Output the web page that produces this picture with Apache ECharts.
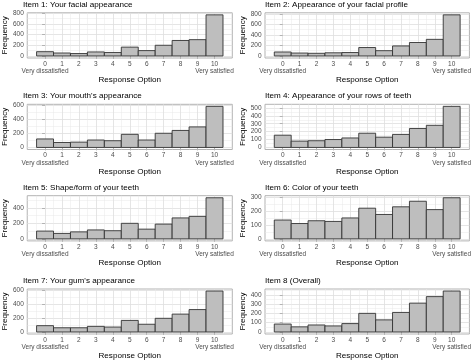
<!DOCTYPE html>
<html><head><meta charset="utf-8">
<script src="https://cdn.jsdelivr.net/npm/echarts@6/dist/echarts.min.js"></script>
<style>html,body{margin:0;padding:0;background:#fff}#c{width:474px;height:361px}</style>
</head><body><div id="c"></div>
<script>
// ---- data ----
const responses = [0, 1, 2, 3, 4, 5, 6, 7, 8, 9, 10];
const endValues = [0, 10];
const endLabels = ['Very dissatisfied', 'Very satisfied'];
const titles = [
  'Item 1: Your facial appearance',
  'Item 2: Appearance of your facial profile',
  "Item 3: Your mouth's appearance",
  'Item 4: Appearance of your rows of teeth',
  'Item 5: Shape/form of your teeth',
  'Item 6: Color of your teeth',
  "Item 7: Your gum's appearance",
  'Item 8 (Overall)'
];
const item1 = [80, 55, 45, 75, 65, 165, 100, 200, 290, 305, 770];
const item2 = [75, 55, 50, 60, 65, 160, 100, 190, 255, 315, 780];
const item3 = [120, 70, 75, 105, 95, 185, 105, 200, 240, 290, 580];
const item4 = [155, 80, 85, 100, 120, 180, 130, 165, 240, 280, 520];
const item5 = [100, 70, 90, 115, 105, 200, 125, 190, 270, 290, 530];
const item6 = [135, 110, 130, 125, 150, 220, 175, 230, 270, 210, 295];
const item7 = [90, 60, 60, 80, 70, 165, 110, 195, 255, 320, 585];
const item8 = [85, 55, 75, 65, 90, 200, 130, 210, 310, 380, 440];
const yTicks1 = [0, 200, 400, 600, 800];
const yTicks2 = [0, 200, 400, 600, 800];
const yTicks3 = [0, 200, 400, 600];
const yTicks4 = [0, 100, 200, 300, 400, 500];
const yTicks5 = [0, 200, 400];
const yTicks6 = [0, 100, 200, 300];
const yTicks7 = [0, 200, 400, 600];
const yTicks8 = [0, 100, 200, 300, 400];
const yMinor1 = [100, 300, 500, 700];
const yMinor2 = [100, 300, 500, 700];
const yMinor3 = [100, 300, 500];
const yMinor4 = [50, 150, 250, 350, 450];
const yMinor5 = [100, 300, 500];
const yMinor6 = [50, 150, 250];
const yMinor7 = [100, 300, 500];
const yMinor8 = [50, 150, 250, 350, 450];
const xMinor = [-0.5, 0.5, 1.5, 2.5, 3.5, 4.5, 5.5, 6.5, 7.5, 8.5, 9.5, 10.5];

const items = [item1, item2, item3, item4, item5, item6, item7, item8];
const yTicks = [yTicks1, yTicks2, yTicks3, yTicks4, yTicks5, yTicks6, yTicks7, yTicks8];
const yMinors = [yMinor1, yMinor2, yMinor3, yMinor4, yMinor5, yMinor6, yMinor7, yMinor8];

// ---- layout ----
const FONT = 'Liberation Sans, Arial, sans-serif';
const lefts = [23, 265];
const widths = [209.3, 207.7];
const tops = [12.8, 104.3, 195.7, 289];
const H = 45.2;
const yNameGap = [13.5, 16.5];
const TICK_FS = 6.5;

const grid = [], xAxis = [], yAxis = [], series = [], title = [];
items.forEach((data, i) => {
  const col = i % 2, row = Math.floor(i / 2);
  const mx = Math.max(...data);
  const ymin = -0.05 * mx, ymax = 1.05 * mx;
  grid.push({left: lefts[col], top: tops[row], width: widths[col], height: H,
    show: true, borderColor: '#b3b3b3', borderWidth: 1, backgroundColor: 'transparent'});
  title.push({text: titles[i], left: lefts[col], top: tops[row] - 13.3, padding: 0,
    textStyle: {fontFamily: FONT, fontSize: 8.1, fontWeight: 'normal', color: '#000', lineHeight: 10}});
  // minor x axis (grid lines only)
  xAxis.push({type: 'value', gridIndex: i, position: 'bottom', min: -1.05, max: 11.05,
    axisLine: {show: false}, axisLabel: {show: false},
    axisTick: {show: false, customValues: xMinor},
    splitLine: {show: true, lineStyle: {color: '#e8e8e8', width: 0.5}}});
  // major x axis
  xAxis.push({type: 'value', gridIndex: i, position: 'bottom', min: -1.05, max: 11.05,
    name: 'Response Option', nameLocation: 'middle', nameGap: 18,
    nameTextStyle: {fontFamily: FONT, fontSize: 8.1, color: '#000'},
    axisLine: {show: false},
    axisTick: {show: true, length: 3, customValues: responses, lineStyle: {color: '#b3b3b3'}},
    axisLabel: {customValues: responses, margin: 2, fontFamily: FONT, fontSize: TICK_FS, lineHeight: 7.7,
      color: '#4d4d4d', hideOverlap: false, showMinLabel: true, showMaxLabel: true,
      formatter: v => String(Math.round(v))},
    splitLine: {show: true, lineStyle: {color: '#dedede', width: 0.8}}});
  // second line of end labels
  xAxis.push({type: 'value', gridIndex: i, position: 'bottom', min: -1.05, max: 11.05,
    axisLine: {show: false}, splitLine: {show: false},
    axisTick: {show: false, customValues: endValues},
    axisLabel: {customValues: endValues, margin: 9.7, fontFamily: FONT, fontSize: TICK_FS, lineHeight: 7.7,
      color: '#4d4d4d', hideOverlap: false, showMinLabel: true, showMaxLabel: true,
      formatter: v => endLabels[endValues.indexOf(Math.round(v))]}});
  // minor y axis
  yAxis.push({type: 'value', gridIndex: i, position: 'left', min: ymin, max: ymax,
    axisLine: {show: false}, axisLabel: {show: false},
    axisTick: {show: false, customValues: yMinors[i]},
    splitLine: {show: true, lineStyle: {color: '#e8e8e8', width: 0.5}}});
  // major y axis
  yAxis.push({type: 'value', gridIndex: i, position: 'left', min: ymin, max: ymax,
    name: 'Frequency', nameLocation: 'middle', nameGap: yNameGap[col],
    nameTextStyle: {fontFamily: FONT, fontSize: 8.1, color: '#000'},
    axisLine: {show: false},
    axisTick: {show: true, length: 3, customValues: yTicks[i], lineStyle: {color: '#b3b3b3'}},
    axisLabel: {customValues: yTicks[i], margin: 3.5, fontFamily: FONT, fontSize: TICK_FS,
      color: '#4d4d4d', hideOverlap: false, showMinLabel: true, showMaxLabel: true,
      formatter: v => String(Math.round(v))},
    splitLine: {show: true, lineStyle: {color: '#dedede', width: 0.8}}});
  series.push({type: 'custom', xAxisIndex: 3 * i + 1, yAxisIndex: 2 * i + 1,
    data: responses.map((r, j) => [r, data[j]]),
    renderItem: (params, api) => {
      const x = api.value(0), y = api.value(1);
      const p0 = api.coord([x - 0.5, y]);
      const p1 = api.coord([x + 0.5, 0]);
      return {type: 'rect', shape: {x: p0[0], y: p0[1], width: p1[0] - p0[0], height: p1[1] - p0[1]},
        style: {fill: '#bebebe', stroke: '#333333', lineWidth: 0.9}};
    }});
});

const chart = echarts.init(document.getElementById('c'), null, {renderer: 'canvas'});
chart.setOption({animation: false, backgroundColor: '#fff', title, grid, xAxis, yAxis, series});
</script></body></html>
